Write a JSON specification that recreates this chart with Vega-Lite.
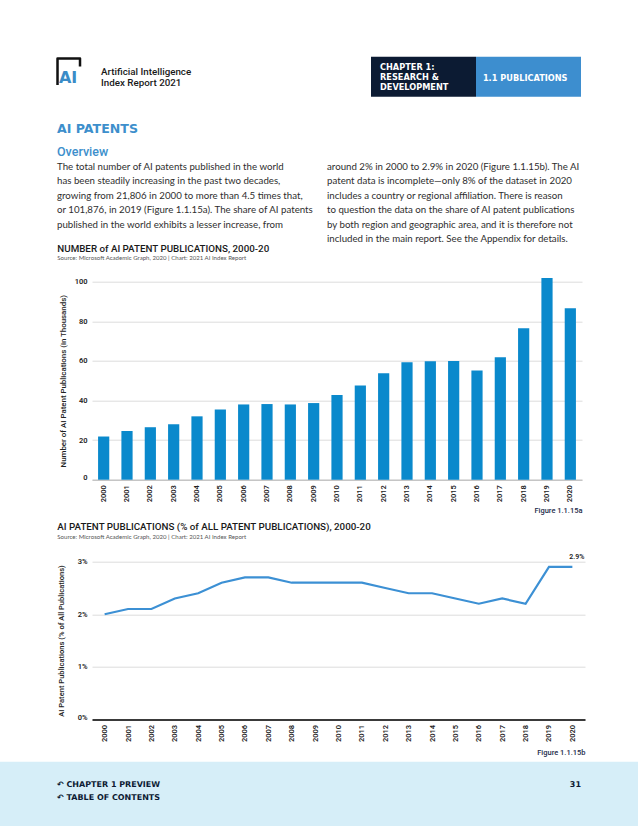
{
  "$schema": "https://vega.github.io/schema/vega-lite/v6.json",
  "background": "white",
  "padding": {"top": 56.7, "left": 0, "right": 0, "bottom": 0},
  "spacing": 0,
  "config": {"view": {"stroke": null}, "font": "Roboto"},
  "vconcat": [
    {
      "spacing": 0,
      "hconcat": [
        {"width": 56, "height": 1, "data": {"values": []}, "mark": "rect", "encoding": {}},
        {
          "width": 525,
          "height": 40,
          "layer": [
            {
              "data": {"values": [{"slot": "s4", "tab": "chapter"}, {"slot": "s5", "tab": "section"}]},
              "mark": {"type": "rect"},
              "encoding": {
                "x": {"field": "slot", "type": "nominal", "scale": {"type": "band", "domain": ["s1", "s2", "s3", "s4", "s5"], "paddingInner": 0, "paddingOuter": 0}, "axis": {"labels": false, "ticks": false, "title": null, "grid": false, "domainColor": "#0c1b33", "domainWidth": 2.2}},
                "color": {"field": "tab", "type": "nominal", "scale": {"domain": ["chapter", "section"], "range": ["#0c1b33", "#3d8ecf"]}, "legend": null}
              }
            },
            {
              "data": {"values": [{"slot": "s4", "label": "CHAPTER 1:\nRESEARCH &\nDEVELOPMENT"}]},
              "mark": {"type": "text", "align": "left", "baseline": "middle", "lineBreak": "\n", "lineHeight": 10.3, "dx": 9, "dy": -9, "font": "DejaVu Sans", "fontWeight": "bold", "fontSize": 8.2, "color": "#ffffff"},
              "encoding": {
                "x": {"field": "slot", "type": "nominal", "bandPosition": 0, "scale": {"type": "band", "domain": ["s1", "s2", "s3", "s4", "s5"], "paddingInner": 0, "paddingOuter": 0}, "axis": null},
                "text": {"field": "label"}
              }
            },
            {
              "data": {"values": [{"slot": "s5", "label": "1.1 PUBLICATIONS"}]},
              "mark": {"type": "text", "align": "center", "baseline": "middle", "dx": -3.3, "dy": 2, "font": "DejaVu Sans", "fontWeight": "bold", "fontSize": 8.2, "color": "#ffffff"},
              "encoding": {
                "x": {"field": "slot", "type": "nominal", "bandPosition": 0.5, "scale": {"type": "band", "domain": ["s1", "s2", "s3", "s4", "s5"], "paddingInner": 0, "paddingOuter": 0}, "axis": null},
                "text": {"field": "label"}
              }
            },
            {
              "data": {"values": [{"slot": "s1", "label": "Artificial Intelligence\nIndex Report 2021"}]},
              "mark": {"type": "text", "align": "left", "baseline": "middle", "lineBreak": "\n", "lineHeight": 11.2, "dx": 45, "dy": -4.4, "font": "Roboto", "fontWeight": 500, "fontSize": 9.8, "color": "#1a1a1a"},
              "encoding": {
                "x": {"field": "slot", "type": "nominal", "bandPosition": 0, "scale": {"type": "band", "domain": ["s1", "s2", "s3", "s4", "s5"], "paddingInner": 0, "paddingOuter": 0}, "axis": null},
                "text": {"field": "label"}
              }
            },
            {
              "data": {"values": [{"slot": "s1", "part": "frame"}]},
              "mark": {"type": "point", "shape": "M-0.9,0.55L-0.9,-1.22L0.6,-1.22L0.6,-0.68", "size": 900, "filled": false, "color": "#111111", "strokeWidth": 2.5, "strokeJoin": "round", "strokeCap": "butt", "opacity": 1},
              "encoding": {
                "x": {"field": "slot", "type": "nominal", "bandPosition": 0.1429, "scale": {"type": "band", "domain": ["s1", "s2", "s3", "s4", "s5"], "paddingInner": 0, "paddingOuter": 0}, "axis": null}
              }
            },
            {
              "data": {"values": [{"slot": "s1", "label": "AI"}]},
              "mark": {"type": "text", "align": "left", "baseline": "middle", "dx": 3, "dy": 1.5, "font": "DejaVu Sans", "fontWeight": "bold", "fontSize": 16, "color": "#3a8cc7"},
              "encoding": {
                "x": {"field": "slot", "type": "nominal", "bandPosition": 0, "scale": {"type": "band", "domain": ["s1", "s2", "s3", "s4", "s5"], "paddingInner": 0, "paddingOuter": 0}, "axis": null},
                "text": {"field": "label"}
              }
            }
          ]
        }
      ]
    },
    {"width": 1, "height": 25.25, "data": {"values": []}, "mark": "rect", "encoding": {}},
    {
      "spacing": 0,
      "hconcat": [
        {"width": 57, "height": 1, "data": {"values": []}, "mark": "rect", "encoding": {}},
        {
          "width": 526,
          "height": 80.4,
          "title": {
            "text": "AI PATENTS",
            "subtitle": "Overview",
            "anchor": "start",
            "frame": "group",
            "font": "DejaVu Sans",
            "fontWeight": "bold",
            "fontSize": 12.6,
            "color": "#3d8fcc",
            "subtitleFont": "Roboto",
            "subtitleFontWeight": 500,
            "subtitleFontSize": 12.5,
            "subtitleColor": "#3d8fcc",
            "subtitlePadding": 10.1,
            "offset": 3.45
          },
          "data": {
            "values": [
              {"col": "left", "line": 1, "text": "The total number of AI patents published in the world"},
              {"col": "left", "line": 2, "text": "has been steadily increasing in the past two decades,"},
              {"col": "left", "line": 3, "text": "growing from 21,806 in 2000 to more than 4.5 times that,"},
              {"col": "left", "line": 4, "text": "or 101,876, in 2019 (Figure 1.1.15a). The share of AI patents"},
              {"col": "left", "line": 5, "text": "published in the world exhibits a lesser increase, from"},
              {"col": "right", "line": 1, "text": "around 2% in 2000 to 2.9% in 2020 (Figure 1.1.15b). The AI"},
              {"col": "right", "line": 2, "text": "patent data is incomplete—only 8% of the dataset in 2020"},
              {"col": "right", "line": 3, "text": "includes a country or regional affiliation. There is reason"},
              {"col": "right", "line": 4, "text": "to question the data on the share of AI patent publications"},
              {"col": "right", "line": 5, "text": "by both region and geographic area, and it is therefore not"},
              {"col": "right", "line": 6, "text": "included in the main report. See the Appendix for details."}
            ]
          },
          "mark": {"type": "text", "align": "left", "baseline": "middle", "font": "Lato", "fontSize": 9.7, "color": "#2e2e2e"},
          "encoding": {
            "x": {"field": "col", "type": "nominal", "bandPosition": 0, "scale": {"type": "band", "domain": ["left", "right"], "paddingInner": 0.0519, "paddingOuter": 0}, "axis": null},
            "y": {"field": "line", "type": "ordinal", "scale": {"type": "point", "domain": [1, 2, 3, 4, 5, 6], "padding": 0.29}, "axis": null},
            "text": {"field": "text"}
          }
        }
      ]
    },
    {
      "spacing": 0,
      "hconcat": [
        {"width": 57, "height": 1, "data": {"values": []}, "mark": "rect", "encoding": {}},
        {
          "width": 490,
          "height": 198,
          "title": {
            "text": "NUMBER of AI PATENT PUBLICATIONS, 2000-20",
            "subtitle": "Source: Microsoft Academic Graph, 2020 | Chart: 2021 AI Index Report",
            "anchor": "start",
            "frame": "group",
            "dx": -34.7,
            "font": "Roboto",
            "fontWeight": 500,
            "fontSize": 9.8,
            "color": "#1a1a1a",
            "subtitleFont": "Lato",
            "subtitleFontSize": 6.1,
            "subtitleColor": "#555555",
            "subtitlePadding": 1.5,
            "offset": 16.5
          },
          "data": {
            "values": [
              {"year": 2000, "patents": 21.806},
              {"year": 2001, "patents": 24.6},
              {"year": 2002, "patents": 26.5},
              {"year": 2003, "patents": 28.0},
              {"year": 2004, "patents": 32.0},
              {"year": 2005, "patents": 35.4},
              {"year": 2006, "patents": 38.0},
              {"year": 2007, "patents": 38.2},
              {"year": 2008, "patents": 38.0},
              {"year": 2009, "patents": 38.7},
              {"year": 2010, "patents": 42.8},
              {"year": 2011, "patents": 47.6},
              {"year": 2012, "patents": 53.7},
              {"year": 2013, "patents": 59.3},
              {"year": 2014, "patents": 59.8},
              {"year": 2015, "patents": 59.9},
              {"year": 2016, "patents": 55.2},
              {"year": 2017, "patents": 61.8},
              {"year": 2018, "patents": 76.5},
              {"year": 2019, "patents": 101.876},
              {"year": 2020, "patents": 86.6}
            ]
          },
          "mark": {"type": "bar", "color": "#0a89cc"},
          "encoding": {
            "x": {
              "field": "year",
              "type": "ordinal",
              "title": "Figure 1.1.15a",
              "scale": {"paddingInner": 0.52, "paddingOuter": 0.26},
              "axis": {
                "labelAngle": -90,
                "labelFont": "Roboto",
                "labelFontWeight": 600,
                "labelFontSize": 7.5,
                "labelColor": "#222222",
                "labelPadding": 5,
                "ticks": false,
                "domainColor": "#b5b5b5",
                "domainWidth": 1,
                "titleAnchor": "end",
                "titleAlign": "right",
                "titleBaseline": "top",
                "titleFont": "Roboto",
                "titleFontWeight": 500,
                "titleFontSize": 7.5,
                "titleColor": "#1c2b4a",
                "titlePadding": 4.6
              }
            },
            "y": {
              "field": "patents",
              "type": "quantitative",
              "title": "Number of AI Patent Publications (in Thousands)",
              "scale": {"domain": [0, 100], "nice": false},
              "axis": {
                "values": [0, 20, 40, 60, 80, 100],
                "domain": false,
                "ticks": false,
                "gridColor": "#dcdcdc",
                "labelFont": "Roboto",
                "labelFontWeight": 600,
                "labelFontSize": 7.5,
                "labelColor": "#222222",
                "labelPadding": 5,
                "labelBaseline": {"condition": {"test": "datum.value == 0", "value": "alphabetic"}, "value": "middle"},
                "titleFont": "Roboto",
                "titleFontWeight": 500,
                "titleFontSize": 7.9,
                "titleColor": "#222222",
                "titlePadding": 6.2
              }
            }
          }
        }
      ]
    },
    {"width": 1, "height": 6.4, "data": {"values": []}, "mark": "rect", "encoding": {}},
    {
      "spacing": 0,
      "hconcat": [
        {"width": 57, "height": 1, "data": {"values": []}, "mark": "rect", "encoding": {}},
        {
          "width": 493,
          "height": 157.7,
          "title": {
            "text": "AI PATENT PUBLICATIONS (% of ALL PATENT PUBLICATIONS), 2000-20",
            "subtitle": "Source: Microsoft Academic Graph, 2020 | Chart: 2021 AI Index Report",
            "anchor": "start",
            "frame": "group",
            "dx": -34.7,
            "font": "Roboto",
            "fontWeight": 500,
            "fontSize": 9.8,
            "color": "#1a1a1a",
            "subtitleFont": "Lato",
            "subtitleFontSize": 6.1,
            "subtitleColor": "#555555",
            "subtitlePadding": 1.5,
            "offset": 13
          },
          "data": {
            "values": [
              {"year": 2000, "share": 0.020},
              {"year": 2001, "share": 0.021},
              {"year": 2002, "share": 0.021},
              {"year": 2003, "share": 0.023},
              {"year": 2004, "share": 0.024},
              {"year": 2005, "share": 0.026},
              {"year": 2006, "share": 0.027},
              {"year": 2007, "share": 0.027},
              {"year": 2008, "share": 0.026},
              {"year": 2009, "share": 0.026},
              {"year": 2010, "share": 0.026},
              {"year": 2011, "share": 0.026},
              {"year": 2012, "share": 0.025},
              {"year": 2013, "share": 0.024},
              {"year": 2014, "share": 0.024},
              {"year": 2015, "share": 0.023},
              {"year": 2016, "share": 0.022},
              {"year": 2017, "share": 0.023},
              {"year": 2018, "share": 0.022},
              {"year": 2019, "share": 0.029},
              {"year": 2020, "share": 0.029}
            ]
          },
          "encoding": {
            "x": {
              "field": "year",
              "type": "ordinal",
              "title": "Figure 1.1.15b",
              "scale": {"type": "point", "padding": 0.54},
              "axis": {
                "labelAngle": -90,
                "labelFont": "Roboto",
                "labelFontWeight": 600,
                "labelFontSize": 7.5,
                "labelColor": "#222222",
                "labelPadding": 5,
                "ticks": false,
                "domainColor": "#3a3a3a",
                "domainWidth": 2,
                "titleAnchor": "end",
                "titleAlign": "right",
                "titleBaseline": "top",
                "titleFont": "Roboto",
                "titleFontWeight": 500,
                "titleFontSize": 7.5,
                "titleColor": "#1c2b4a",
                "titlePadding": 7
              }
            },
            "y": {
              "field": "share",
              "type": "quantitative",
              "title": "AI Patent Publications (% of All Publications)",
              "scale": {"domain": [0, 0.03], "nice": false},
              "axis": {
                "values": [0, 0.01, 0.02, 0.03],
                "format": ".0%",
                "domain": false,
                "ticks": false,
                "gridColor": "#dcdcdc",
                "labelFont": "Roboto",
                "labelFontWeight": 600,
                "labelFontSize": 7.5,
                "labelColor": "#222222",
                "labelPadding": 5,
                "labelBaseline": {"condition": {"test": "datum.value == 0", "value": "alphabetic"}, "value": "middle"},
                "titleFont": "Roboto",
                "titleFontWeight": 500,
                "titleFontSize": 7.6,
                "titleColor": "#222222",
                "titlePadding": 11.4
              }
            }
          },
          "layer": [
            {"mark": {"type": "line", "color": "#3c90d4", "strokeWidth": 2.2}},
            {
              "transform": [{"filter": "datum.year == 2020"}],
              "mark": {"type": "text", "align": "center", "baseline": "middle", "dx": 4.4, "dy": -10.3, "font": "Roboto", "fontWeight": 600, "fontSize": 7, "color": "#222222"},
              "encoding": {"text": {"field": "share", "type": "quantitative", "format": ".1%"}}
            }
          ]
        }
      ]
    },
    {"width": 1, "height": 4.5, "data": {"values": []}, "mark": "rect", "encoding": {}},
    {
      "width": 638,
      "height": 66,
      "view": {"fill": "#d6eef8", "stroke": null},
      "layer": [
        {
          "data": {"values": [
            {"pos": "left", "line": 1, "link": "chapter", "label": "↶ CHAPTER 1 PREVIEW"},
            {"pos": "left", "line": 2, "link": "toc", "label": "↶ TABLE OF CONTENTS"}
          ]},
          "mark": {"type": "text", "align": "left", "baseline": "middle", "font": "DejaVu Sans", "fontWeight": "bold", "fontSize": 8},
          "encoding": {
            "x": {"field": "pos", "type": "nominal", "bandPosition": 0, "scale": {"type": "band", "domain": ["left", "right"], "paddingInner": 0, "paddingOuter": 0.2176}, "axis": null},
            "y": {"field": "line", "type": "quantitative", "scale": {"domain": [-0.903, 4.42], "reverse": true, "nice": false, "zero": false}, "axis": null},
            "color": {"field": "link", "type": "nominal", "scale": {"domain": ["chapter", "toc"], "range": ["#4a9bd8", "#0d1b34"]}, "legend": null},
            "text": {"field": "label"}
          }
        },
        {
          "data": {"values": [{"pos": "right", "line": 1, "page": "31"}]},
          "mark": {"type": "text", "align": "right", "baseline": "middle", "font": "DejaVu Sans", "fontWeight": "bold", "fontSize": 8, "color": "#0d1b34"},
          "encoding": {
            "x": {"field": "pos", "type": "nominal", "bandPosition": 1, "scale": {"type": "band", "domain": ["left", "right"], "paddingInner": 0, "paddingOuter": 0.2176}, "axis": null},
            "y": {"field": "line", "type": "quantitative", "scale": {"domain": [-0.903, 4.42], "reverse": true, "nice": false, "zero": false}, "axis": null},
            "text": {"field": "page"}
          }
        }
      ]
    }
  ]
}
